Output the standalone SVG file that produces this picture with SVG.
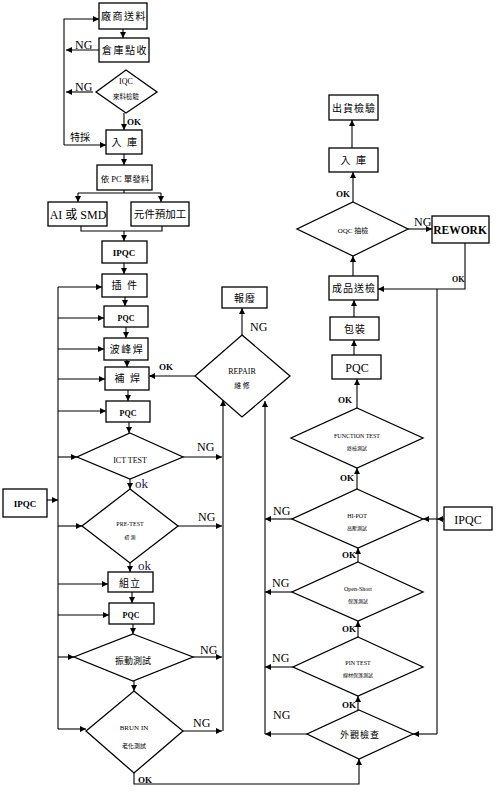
<svg xmlns="http://www.w3.org/2000/svg" width="497" height="797" viewBox="0 0 497 797">
<defs>
<marker id="ah" viewBox="0 0 10 10" refX="10" refY="5" markerWidth="6" markerHeight="6" orient="auto" markerUnits="userSpaceOnUse">
<path d="M0,0 L10,5 L0,10 z" fill="#000"/>
</marker>
<style>
.b{fill:#fff;stroke:#000;stroke-width:1.3}
.l{fill:none;stroke:#000;stroke-width:1.1}
.a{fill:none;stroke:#000;stroke-width:1.1;marker-end:url(#ah)}
text{font-family:"Liberation Serif","Noto Sans CJK TC",serif;fill:#000;text-anchor:middle}
.z{font-size:10px;letter-spacing:1.5px}
.s{font-size:6px}
.t{font-size:5px}
.lb{text-anchor:start}
.ng{font-size:12px}
.ok{font-size:9px;font-weight:bold}
.ok2{font-size:13px;fill:#1a2050}
</style>
</defs>
<rect width="497" height="797" fill="#fff"/>

<g id="connectors">
<polyline class="a" points="64,145 64,19 99,19"/>
<line class="a" x1="64" y1="145" x2="106" y2="145"/>
<line class="a" x1="123" y1="29" x2="123" y2="38"/>
<line class="a" x1="99" y1="50" x2="66" y2="50"/>
<line class="a" x1="93" y1="92" x2="66" y2="92"/>
<line class="a" x1="124" y1="113" x2="124" y2="130"/>
<line class="a" x1="124" y1="154" x2="124" y2="165"/>
<line class="l" x1="124" y1="190" x2="124" y2="193"/>
<line class="l" x1="78" y1="193" x2="161" y2="193"/>
<line class="a" x1="78" y1="193" x2="78" y2="202"/>
<line class="a" x1="161" y1="193" x2="161" y2="202"/>
<polyline class="l" points="81,226 81,231 162,231 162,226"/>
<line class="a" x1="124" y1="231" x2="124" y2="241"/>
<line class="a" x1="124" y1="263" x2="124" y2="274"/>
<line class="a" x1="125" y1="297" x2="125" y2="306"/>
<line class="a" x1="126" y1="327" x2="126" y2="338"/>
<line class="a" x1="127" y1="360" x2="127" y2="367"/>
<line class="a" x1="128" y1="390" x2="128" y2="401"/>
<line class="a" x1="129" y1="422" x2="129" y2="433"/>
<line class="a" x1="130" y1="479" x2="130" y2="489"/>
<line class="a" x1="130" y1="563" x2="130" y2="572"/>
<line class="a" x1="132" y1="592" x2="132" y2="603"/>
<line class="a" x1="133" y1="624" x2="133" y2="634"/>
<line class="a" x1="134" y1="681" x2="134" y2="691"/>
<line class="l" x1="58" y1="287" x2="58" y2="729"/>
<line class="a" x1="58" y1="287" x2="102" y2="287"/>
<line class="a" x1="58" y1="318" x2="104" y2="318"/>
<line class="a" x1="58" y1="349" x2="104" y2="349"/>
<line class="a" x1="58" y1="379" x2="105" y2="379"/>
<line class="a" x1="58" y1="411" x2="106" y2="411"/>
<line class="a" x1="58" y1="457" x2="77" y2="457"/>
<line class="a" x1="47" y1="500" x2="58" y2="500"/>
<line class="a" x1="58" y1="526" x2="82" y2="526"/>
<line class="a" x1="58" y1="584" x2="108" y2="584"/>
<line class="a" x1="58" y1="615" x2="109" y2="615"/>
<line class="a" x1="58" y1="657" x2="74" y2="657"/>
<line class="a" x1="58" y1="729" x2="86" y2="729"/>
<line class="a" x1="183" y1="457" x2="222" y2="457"/>
<line class="a" x1="178" y1="526" x2="222" y2="526"/>
<line class="a" x1="193" y1="657" x2="222" y2="657"/>
<line class="a" x1="183" y1="731" x2="222" y2="731"/>
<line class="a" x1="223" y1="731" x2="223" y2="400"/>
<line class="a" x1="195" y1="376" x2="149" y2="376"/>
<line class="a" x1="242" y1="335" x2="242" y2="308"/>
<line class="a" x1="265" y1="734" x2="265" y2="401"/>
<line class="a" x1="292" y1="519" x2="265" y2="519"/>
<line class="a" x1="292" y1="592" x2="265" y2="592"/>
<line class="a" x1="293" y1="667" x2="265" y2="667"/>
<line class="a" x1="307" y1="734" x2="265" y2="734"/>
<polyline class="a" points="134,773 134,784 359,784 359,759"/>
<line class="a" x1="358" y1="710" x2="358" y2="696"/>
<line class="a" x1="358" y1="637" x2="358" y2="621"/>
<line class="a" x1="358" y1="562" x2="358" y2="548"/>
<line class="a" x1="357" y1="489" x2="357" y2="468"/>
<line class="a" x1="357" y1="408" x2="357" y2="379"/>
<line class="a" x1="354" y1="355" x2="354" y2="340"/>
<line class="a" x1="354" y1="317" x2="354" y2="300"/>
<line class="a" x1="353" y1="276" x2="353" y2="256"/>
<line class="a" x1="353" y1="202" x2="353" y2="172"/>
<line class="a" x1="352" y1="148" x2="352" y2="120"/>
<line class="a" x1="408" y1="229" x2="432" y2="229"/>
<polyline class="a" points="465,243 465,289 378,289"/>
<line class="l" x1="437" y1="289" x2="437" y2="734"/>
<line class="a" x1="437" y1="734" x2="413" y2="734"/>
<line class="a" x1="444" y1="519" x2="437" y2="519"/>
<line class="a" x1="437" y1="519" x2="423" y2="519"/>
</g>

<g id="n-cssl"><rect class="b" x="99" y="3" width="48" height="26"/><text class="z" x="124" y="20">廠商送料</text></g>
<g id="n-ckds"><rect class="b" x="99" y="38" width="50" height="24"/><text class="z" x="125" y="54">倉庫點收</text></g>
<g id="n-iqc"><polygon class="b" points="126,70 157,92 126,113 96,92"/><text x="126" y="84" style="font-size:8px">IQC</text><text x="126" y="99" style="font-size:6.5px">來料檢驗</text></g>
<g id="n-rk1"><rect class="b" x="106" y="130" width="36" height="24"/><text class="z" x="125" y="146">入 庫</text></g>
<g id="n-fl"><rect class="b" x="97" y="165" width="55" height="25"/><text x="125" y="182" style="font-size:8.5px">依 PC 單發料</text></g>
<g id="n-ai"><rect class="b" x="48" y="202" width="59" height="24"/><text x="78" y="219" style="font-size:12px">AI 或 SMD</text></g>
<g id="n-yj"><rect class="b" x="131" y="202" width="58" height="24"/><text x="160" y="218" style="font-size:10.5px">元件預加工</text></g>
<g id="n-ipqc1"><rect class="b" x="102" y="241" width="45" height="22"/><text x="124" y="256" style="font-size:9px;font-weight:bold">IPQC</text></g>
<g id="n-cj"><rect class="b" x="102" y="274" width="45" height="23"/><text class="z" x="125" y="289">插 件</text></g>
<g id="n-pqc1"><rect class="b" x="104" y="306" width="44" height="21"/><text x="126" y="321" style="font-size:8px;font-weight:bold">PQC</text></g>
<g id="n-bfh"><rect class="b" x="104" y="338" width="44" height="22"/><text class="z" x="127" y="353">波峰焊</text></g>
<g id="n-bh"><rect class="b" x="105" y="367" width="44" height="23"/><text class="z" x="128" y="382">補 焊</text></g>
<g id="n-pqc2"><rect class="b" x="106" y="401" width="44" height="21"/><text x="128" y="416" style="font-size:8px;font-weight:bold">PQC</text></g>
<g id="n-ict"><polygon class="b" points="130,433 183,457 130,479 77,457"/><text x="130" y="463" style="font-size:8px">ICT TEST</text></g>
<g id="n-pre"><polygon class="b" points="130,489 178,526 130,563 82,526"/><text class="s" x="130" y="526">PRE-TEST</text><text class="t" x="130" y="539">初 測</text></g>
<g id="n-ipqc2"><rect class="b" x="3" y="489" width="44" height="28"/><text x="25" y="507" style="font-size:9px;font-weight:bold">IPQC</text></g>
<g id="n-zl"><rect class="b" x="108" y="572" width="45" height="20"/><text x="130" y="587" style="font-size:10px;letter-spacing:1px">組立</text></g>
<g id="n-pqc3"><rect class="b" x="109" y="603" width="45" height="21"/><text x="131" y="618" style="font-size:8px;font-weight:bold">PQC</text></g>
<g id="n-zd"><polygon class="b" points="133,634 193,657 133,681 74,657"/><text x="133" y="664" style="font-size:9px">振動測試</text></g>
<g id="n-burn"><polygon class="b" points="134,691 183,731 134,773 86,731"/><text x="134" y="730" style="font-size:7px">BRUN IN</text><text x="134" y="748" style="font-size:6px">老化測試</text></g>
<g id="n-repair"><polygon class="b" points="242,335 290,376 242,417 195,376"/><text x="242" y="374" style="font-size:8px">REPAIR</text><text x="242" y="388" style="font-size:7px">維 修</text></g>
<g id="n-bf"><rect class="b" x="222" y="287" width="45" height="21"/><text x="245" y="302" style="font-size:10px;letter-spacing:1px">報廢</text></g>

<g id="n-chjy"><rect class="b" x="329" y="95" width="49" height="25"/><text x="354" y="112" style="font-size:10px;letter-spacing:1px">出貨檢驗</text></g>
<g id="n-rk2"><rect class="b" x="329" y="148" width="49" height="24"/><text class="z" x="354" y="164">入 庫</text></g>
<g id="n-oqc"><polygon class="b" points="353,202 408,229 353,256 297,229"/><text x="353" y="233" style="font-size:7px">OQC 抽檢</text></g>
<g id="n-rework"><rect class="b" x="432" y="216" width="57" height="27"/><text x="460" y="234" style="font-size:11.5px;font-weight:bold">REWORK</text></g>
<g id="n-cpsj"><rect class="b" x="329" y="276" width="49" height="24"/><text x="354" y="292" style="font-size:10px;letter-spacing:1px">成品送檢</text></g>
<g id="n-bz"><rect class="b" x="330" y="317" width="49" height="23"/><text x="355" y="333" style="font-size:10px;letter-spacing:1px">包裝</text></g>
<g id="n-pqc4"><rect class="b" x="332" y="355" width="49" height="24"/><text x="357" y="372" style="font-size:12px">PQC</text></g>
<g id="n-func"><polygon class="b" points="357,408 423,438 357,468 291,438"/><text class="s" x="357" y="438">FUNCTION TEST</text><text class="t" x="357" y="450">終檢測試</text></g>
<g id="n-hipot"><polygon class="b" points="357,489 423,519 358,548 292,519"/><text class="s" x="357" y="518">HI-POT</text><text class="t" x="357" y="530">高壓測試</text></g>
<g id="n-os"><polygon class="b" points="358,562 423,592 358,621 292,592"/><text class="s" x="358" y="591">Open-Short</text><text class="t" x="358" y="603">保護測試</text></g>
<g id="n-pin"><polygon class="b" points="358,637 423,667 358,696 293,667"/><text class="s" x="358" y="665">PIN TEST</text><text class="t" x="358" y="677">線材保護測試</text></g>
<g id="n-wg"><polygon class="b" points="359,710 413,734 359,759 307,734"/><text x="360" y="738" style="font-size:9px;letter-spacing:1px">外觀檢查</text></g>
<g id="n-ipqc3"><rect class="b" x="444" y="507" width="48" height="23"/><text x="468" y="524" style="font-size:12px">IPQC</text></g>

<g id="labels">
<text class="lb ng" x="75" y="49">NG</text>
<text class="lb ng" x="75" y="91">NG</text>
<text class="lb ok" x="127" y="125">OK</text>
<text class="lb" x="70" y="141" style="font-size:10px">特採</text>
<text class="lb ng" x="250" y="331">NG</text>
<text class="lb ok" x="159" y="370">OK</text>
<text class="lb ng" x="197" y="451">NG</text>
<text class="lb ok2" x="135" y="488">ok</text>
<text class="lb ng" x="198" y="521">NG</text>
<text class="lb ok2" x="138" y="570">ok</text>
<text class="lb ng" x="200" y="654">NG</text>
<text class="lb ng" x="193" y="727">NG</text>
<text class="lb ok" x="138" y="783">OK</text>
<text class="lb ok" x="336" y="197">OK</text>
<text class="lb ng" x="414" y="226">NG</text>
<text class="lb" x="452" y="282" style="font-size:8px;font-weight:bold">OK</text>
<text class="lb ok" x="338" y="403">OK</text>
<text class="lb ok" x="340" y="481">OK</text>
<text class="lb ng" x="273" y="515">NG</text>
<text class="lb ok" x="342" y="558">OK</text>
<text class="lb ng" x="272" y="587">NG</text>
<text class="lb ok" x="342" y="632">OK</text>
<text class="lb ng" x="272" y="662">NG</text>
<text class="lb ok" x="342" y="708">OK</text>
<text class="lb ng" x="273" y="719">NG</text>
</g>
</svg>
